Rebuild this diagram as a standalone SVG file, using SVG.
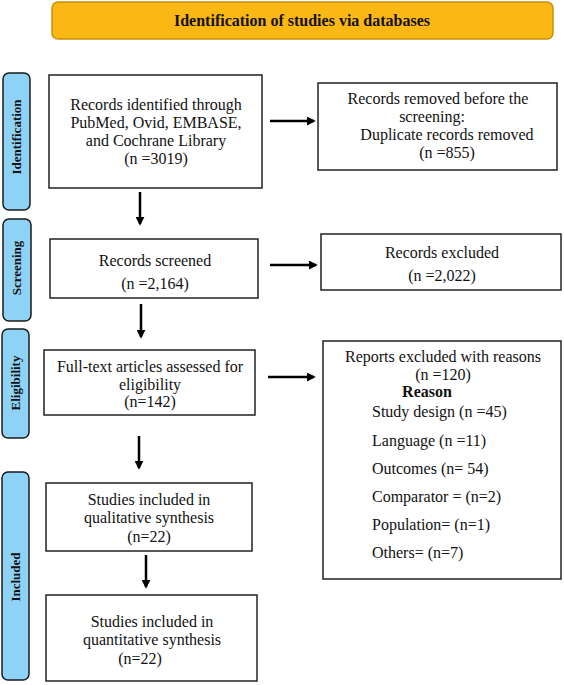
<svg xmlns="http://www.w3.org/2000/svg" width="564" height="685" viewBox="0 0 564 685">
<style>
.box{fill:#fff;stroke:#222;stroke-width:1.5}
.pill{fill:#8ED3F5;stroke:#1a1a1a;stroke-width:1.5}
.t{font-family:"Liberation Serif","Times New Roman",serif;font-size:16px;fill:#111}
.c{text-anchor:middle}
.pl{font-family:"Liberation Serif","Times New Roman",serif;font-size:13px;font-weight:bold;fill:#111;text-anchor:middle}
.arr{stroke:#000;stroke-width:2.5;fill:none;marker-end:url(#ah)}
</style>
<defs>
<marker id="ah" viewBox="0 0 10 10" refX="8" refY="5" markerWidth="3.6" markerHeight="3.6" orient="auto" markerUnits="strokeWidth">
<path d="M0,0 L10,5 L0,10 z" fill="#000"/>
</marker>
</defs>
<g id="banner">
<rect x="52" y="2" width="501" height="37" rx="6" fill="#FBB713" stroke="#C8900B" stroke-width="1.5"/>
<text x="302" y="26" class="t c" style="font-weight:bold;font-size:16px">Identification of studies via databases</text>
</g>
<g id="phase-identification">
<rect x="3" y="73" width="27" height="137" rx="6" class="pill"/>
<text class="pl" transform="translate(21,137) rotate(-90)">Identification</text>
</g>
<g id="phase-screening">
<rect x="3" y="219" width="28" height="102" rx="6" class="pill"/>
<text class="pl" transform="translate(21,268) rotate(-90)">Screening</text>
</g>
<g id="phase-eligibility">
<rect x="2" y="329" width="27" height="109" rx="6" class="pill"/>
<text class="pl" transform="translate(20,383) rotate(-90)">Eligibility</text>
</g>
<g id="phase-included">
<rect x="2" y="472" width="27" height="208" rx="6" class="pill"/>
<text class="pl" transform="translate(20,577) rotate(-90)">Included</text>
</g>
<g id="n-identified">
<rect x="49" y="75" width="213" height="113" class="box"/>
<text class="t c" x="156" y="110">Records identified through</text>
<text class="t c" x="156" y="128">PubMed, Ovid, EMBASE,</text>
<text class="t c" x="156" y="146">and Cochrane Library</text>
<text class="t c" x="156" y="164">(n =3019)</text>
</g>
<g id="n-removed">
<rect x="318" y="83" width="239" height="87" class="box"/>
<text class="t c" x="438" y="104">Records removed before the</text>
<text class="t c" x="432" y="122">screening:</text>
<text class="t c" x="447" y="140">Duplicate records removed</text>
<text class="t c" x="447" y="158">(n =855)</text>
</g>
<g id="n-screened">
<rect x="50" y="239" width="208" height="59" class="box"/>
<text class="t c" x="155" y="266">Records screened</text>
<text class="t c" x="155" y="289">(n =2,164)</text>
</g>
<g id="n-excluded">
<rect x="321" y="234" width="240" height="56" class="box"/>
<text class="t c" x="442" y="258">Records excluded</text>
<text class="t c" x="442" y="281">(n =2,022)</text>
</g>
<g id="n-fulltext">
<rect x="44" y="350" width="211" height="65" class="box"/>
<text class="t c" x="150" y="372">Full-text articles assessed for</text>
<text class="t c" x="150" y="390">eligibility</text>
<text class="t c" x="150" y="407">(n=142)</text>
</g>
<g id="n-reports-excluded">
<rect x="323" y="341" width="238" height="238" class="box"/>
<text class="t c" x="443" y="362">Reports excluded with reasons</text>
<text class="t c" x="443" y="380">(n =120)</text>
<text class="t c" x="427" y="397" style="font-weight:bold">Reason</text>
<text class="t" x="372" y="417">Study design (n =45)</text>
<text class="t" x="372" y="446">Language (n =11)</text>
<text class="t" x="372" y="474">Outcomes (n= 54)</text>
<text class="t" x="372" y="502">Comparator = (n=2)</text>
<text class="t" x="372" y="530">Population= (n=1)</text>
<text class="t" x="372" y="558">Others= (n=7)</text>
</g>
<g id="n-qualitative">
<rect x="46" y="483" width="206" height="68" class="box"/>
<text class="t c" x="149" y="505">Studies included in</text>
<text class="t c" x="149" y="523">qualitative synthesis</text>
<text class="t c" x="149" y="542">(n=22)</text>
</g>
<g id="n-quantitative">
<rect x="46" y="595" width="211" height="86" class="box"/>
<text class="t c" x="152" y="627">Studies included in</text>
<text class="t c" x="152" y="645">quantitative synthesis</text>
<text class="t c" x="140" y="664">(n=22)</text>
</g>
<g id="connectors">
<line class="arr" x1="270" y1="121" x2="314" y2="121"/>
<line class="arr" x1="140" y1="192" x2="140" y2="224"/>
<line class="arr" x1="270" y1="265" x2="316" y2="265"/>
<line class="arr" x1="141" y1="304" x2="141" y2="337"/>
<line class="arr" x1="268" y1="377" x2="314" y2="377"/>
<line class="arr" x1="139" y1="436" x2="139" y2="468"/>
<line class="arr" x1="146" y1="555" x2="146" y2="587"/>
</g>
</svg>
